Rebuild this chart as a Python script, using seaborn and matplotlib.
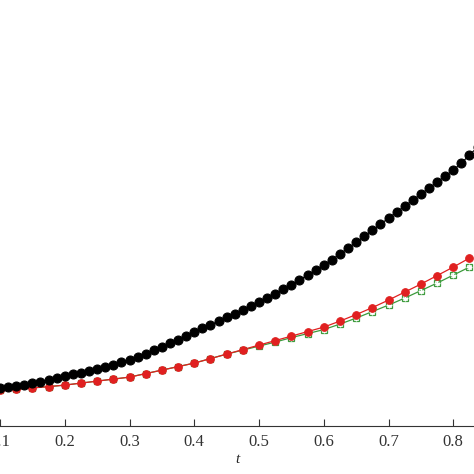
import numpy as np
import pandas as pd
import matplotlib
matplotlib.use("Agg")
import matplotlib.pyplot as plt
import seaborn as sns

t_black = [0.1 + 0.0125 * i for i in range(60)]
y_black = [38, 39, 40.1, 41.3, 42.7, 44.3, 46, 47.9,
           50, 51.7, 53.5, 55.4, 57.4, 59.4, 61.5, 63.7,
           66, 69.2, 72.5, 75.9, 79.4, 82.9, 86.5, 90.2,
           94, 97.6, 101.2, 104.9, 108.6, 112.4, 116.2, 120.1,
           124, 128.2, 132.5, 136.9, 141.5, 146.2, 151, 155.9,
           161, 166.5, 172.1, 177.9, 183.8, 189.7, 195.7, 201.8,
           208, 214, 220, 226, 232, 238, 244, 250,
           256, 263, 271, 279]
t_col = [0.1 + 0.025 * i for i in range(30)]
y_red = [36, 37, 38.2, 39.5, 41, 43, 45, 47, 49, 52.5, 56, 59.5, 63, 67.5, 72, 76.5, 81, 85.5, 90,
         94.5, 99, 105, 111.5, 118.5, 126, 134, 142, 150.5, 159, 168]
y_green = [36, 37, 38.2, 39.5, 41, 43, 45, 47, 49, 52.5, 56, 59.5, 63, 67.5, 72, 76, 80, 84, 88.5,
           92.5, 96.5, 102, 108, 114.5, 121, 128, 135.5, 143, 151, 159]
xticks = [0.1, 0.2, 0.3, 0.4, 0.5, 0.6, 0.7, 0.8]
xticklabels = ["0.1", "0.2", "0.3", "0.4", "0.5", "0.6", "0.7", "0.8"]

sns.set_theme(style="white")
plt.rcParams["font.family"] = ["Liberation Serif", "DejaVu Serif"]

fig = plt.figure(figsize=(4.74, 4.74), dpi=100)
ax = fig.add_axes([0, 0.101, 1, 0.899])

sns.lineplot(x=t_col, y=y_green, ax=ax, color="#3a9a3a", lw=0.9, marker="s", markersize=5,
             markerfacecolor="none", markeredgecolor="#3a9a3a", markeredgewidth=0.9)
sns.lineplot(x=t_col, y=y_green, ax=ax, color="#2a4a9a", lw=0, marker="+", markersize=5,
             markeredgewidth=1.0)
sns.lineplot(x=t_col, y=y_red, ax=ax, color="#e02020", lw=0.9, marker="o", markersize=5.5,
             markeredgecolor="#e02020")
sns.lineplot(x=t_black, y=y_black, ax=ax, color="black", lw=0.8, marker="o", markersize=6.5,
             markeredgecolor="black")

ax.set_xlim(0.103, 0.832)
ax.set_ylim(0, 426)
ax.set_xticks(xticks)
ax.set_xticklabels(xticklabels, fontsize=12, color="#222222")
ax.set_yticks([])
for s in ["top", "left", "right"]:
    ax.spines[s].set_visible(False)
ax.spines["bottom"].set_color("#333333")
ax.spines["bottom"].set_linewidth(0.8)
ax.tick_params(axis="x", direction="in", length=5, width=0.8, colors="#333333", pad=6, bottom=True)
ax.set_xlabel("t", fontstyle="italic", fontsize=11, labelpad=2)
fig.savefig("out.png", dpi=100)
